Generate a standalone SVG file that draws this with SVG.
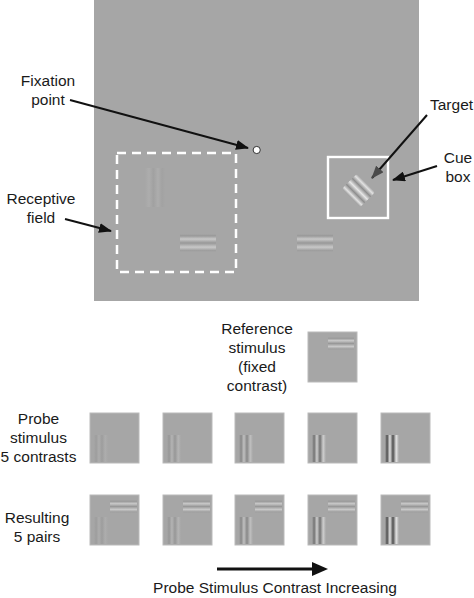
<svg xmlns="http://www.w3.org/2000/svg" width="474" height="598" viewBox="0 0 474 598">
<style>
text{font-family:"Liberation Sans",Arial,sans-serif;font-size:15.5px;fill:#1a1a1a;text-anchor:middle}
.panel{fill:#a6a6a6}
.box{fill:#a6a6a6;stroke:#bababa;stroke-width:1}
.arr{stroke:#111;stroke-width:2;fill:none;marker-end:url(#ah)}
</style>
<defs>
<marker id="ah" markerUnits="userSpaceOnUse" markerWidth="13" markerHeight="10" refX="12" refY="5" orient="auto"><path d="M0,0 L13,5 L0,10 z" fill="#111"/></marker>
<marker id="ahg" markerUnits="userSpaceOnUse" markerWidth="13" markerHeight="10" refX="12" refY="5" orient="auto"><path d="M0,0 L13,5 L0,10 z" fill="#4a4a4a"/></marker>
<linearGradient id="gH" x1="0" y1="0" x2="0" y2="1">
<stop offset="0" stop-color="#a6a6a6"/><stop offset="0.1" stop-color="#999"/><stop offset="0.28" stop-color="#c8c8c8"/><stop offset="0.5" stop-color="#989898"/><stop offset="0.73" stop-color="#c8c8c8"/><stop offset="0.92" stop-color="#9e9e9e"/><stop offset="1" stop-color="#a6a6a6"/>
</linearGradient>
<linearGradient id="gT" x1="0" y1="0" x2="0" y2="1">
<stop offset="0" stop-color="#a8a8a8"/><stop offset="0.12" stop-color="#e2e2e2"/><stop offset="0.3" stop-color="#8e8e8e"/><stop offset="0.5" stop-color="#e6e6e6"/><stop offset="0.7" stop-color="#8e8e8e"/><stop offset="0.88" stop-color="#e2e2e2"/><stop offset="1" stop-color="#a0a0a0"/>
</linearGradient>
<linearGradient id="gRF" x1="0" y1="0" x2="1" y2="0">
<stop offset="0" stop-color="#a6a6a6"/><stop offset="0.2" stop-color="#adadad"/><stop offset="0.42" stop-color="#a1a1a1"/><stop offset="0.65" stop-color="#adadad"/><stop offset="0.85" stop-color="#a2a2a2"/><stop offset="1" stop-color="#a6a6a6"/>
</linearGradient>
<linearGradient id="v1" x1="0" y1="0" x2="1" y2="0"><stop offset="0" stop-color="#a6a6a6"/><stop offset="0.15" stop-color="#9d9d9d"/><stop offset="0.35" stop-color="#adadad"/><stop offset="0.57" stop-color="#9d9d9d"/><stop offset="0.8" stop-color="#adadad"/><stop offset="1" stop-color="#a6a6a6"/></linearGradient>
<linearGradient id="v2" x1="0" y1="0" x2="1" y2="0"><stop offset="0" stop-color="#a6a6a6"/><stop offset="0.15" stop-color="#979797"/><stop offset="0.35" stop-color="#b4b4b4"/><stop offset="0.57" stop-color="#979797"/><stop offset="0.8" stop-color="#b4b4b4"/><stop offset="1" stop-color="#a6a6a6"/></linearGradient>
<linearGradient id="v3" x1="0" y1="0" x2="1" y2="0"><stop offset="0" stop-color="#a6a6a6"/><stop offset="0.15" stop-color="#888"/><stop offset="0.35" stop-color="#c0c0c0"/><stop offset="0.57" stop-color="#888"/><stop offset="0.8" stop-color="#c0c0c0"/><stop offset="1" stop-color="#a6a6a6"/></linearGradient>
<linearGradient id="v4" x1="0" y1="0" x2="1" y2="0"><stop offset="0" stop-color="#a6a6a6"/><stop offset="0.15" stop-color="#727272"/><stop offset="0.35" stop-color="#cecece"/><stop offset="0.57" stop-color="#727272"/><stop offset="0.8" stop-color="#cecece"/><stop offset="1" stop-color="#a6a6a6"/></linearGradient>
<linearGradient id="v5" x1="0" y1="0" x2="1" y2="0"><stop offset="0" stop-color="#a6a6a6"/><stop offset="0.15" stop-color="#4e4e4e"/><stop offset="0.35" stop-color="#e2e2e2"/><stop offset="0.57" stop-color="#4e4e4e"/><stop offset="0.8" stop-color="#e2e2e2"/><stop offset="1" stop-color="#a6a6a6"/></linearGradient>
</defs>

<g id="display">
<rect class="panel" x="94" y="0" width="325" height="301"/>
</g>
<g id="fixation-point"><circle cx="256.7" cy="150" r="3.6" fill="#fff" stroke="#333" stroke-width="1"/></g>
<g id="receptive-field">
<rect x="117" y="153" width="119" height="119" fill="none" stroke="#fff" stroke-width="2.5" stroke-dasharray="9 6"/>
<rect x="145" y="168" width="20" height="39" fill="url(#gRF)"/>
<rect x="180" y="234" width="36" height="18" fill="url(#gH)"/>
</g>
<g id="distractor"><rect x="297" y="234" width="36" height="18" fill="url(#gH)"/></g>
<g id="cue-box"><rect x="328" y="157" width="60" height="61" fill="none" stroke="#fff" stroke-width="2.4"/></g>
<g id="target" transform="translate(358.5,190.5) rotate(45)"><rect x="-13" y="-10.5" width="26" height="21" rx="2.5" fill="url(#gT)"/></g>

<g id="labels-top">
<text x="48" y="86">Fixation</text><text x="48" y="105">point</text>
<text x="41" y="204">Receptive</text><text x="41" y="223">field</text>
<text x="430" y="110" style="text-anchor:start">Target</text>
<text x="458" y="163">Cue</text><text x="458" y="182">box</text>
</g>

<g id="connectors">
<line class="arr" x1="70" y1="100" x2="248" y2="148"/>
<line class="arr" x1="65" y1="219" x2="111" y2="231"/>
<line x1="427" y1="115" x2="372" y2="178" stroke="#111" stroke-width="2" marker-end="url(#ahg)"/>
<line class="arr" x1="437" y1="166" x2="393" y2="180"/>
<line x1="217" y1="569" x2="313" y2="569" stroke="#111" stroke-width="3"/>
<polygon points="312,562 328,569 312,576" fill="#111"/>
</g>

<g id="reference">
<text x="257" y="334">Reference</text><text x="257" y="353">stimulus</text><text x="257" y="372">(fixed</text><text x="257" y="391">contrast)</text>
<rect class="box" x="308" y="332" width="49" height="50"/>
<rect x="328" y="337" width="26" height="13" fill="url(#gH)"/>
</g>

<g id="probe-row">
<text x="38.5" y="424">Probe</text><text x="38.5" y="443">stimulus</text><text x="38.5" y="462">5 contrasts</text>
<rect class="box" x="90" y="413" width="49" height="50"/><rect x="94" y="435" width="14" height="27" fill="url(#v1)"/>
<rect class="box" x="163" y="413" width="49" height="50"/><rect x="167" y="435" width="14" height="27" fill="url(#v2)"/>
<rect class="box" x="235" y="413" width="49" height="50"/><rect x="239" y="435" width="14" height="27" fill="url(#v3)"/>
<rect class="box" x="308" y="413" width="49" height="50"/><rect x="312" y="435" width="14" height="27" fill="url(#v4)"/>
<rect class="box" x="381" y="413" width="49" height="50"/><rect x="385" y="435" width="14" height="27" fill="url(#v5)"/>
</g>

<g id="pairs-row">
<text x="37" y="523">Resulting</text><text x="37" y="542">5 pairs</text>
<rect class="box" x="90" y="495" width="49" height="50"/><rect x="94" y="517" width="14" height="27" fill="url(#v1)"/><rect x="110" y="500" width="27" height="13" fill="url(#gH)"/>
<rect class="box" x="163" y="495" width="49" height="50"/><rect x="167" y="517" width="14" height="27" fill="url(#v2)"/><rect x="183" y="500" width="27" height="13" fill="url(#gH)"/>
<rect class="box" x="235" y="495" width="49" height="50"/><rect x="239" y="517" width="14" height="27" fill="url(#v3)"/><rect x="255" y="500" width="27" height="13" fill="url(#gH)"/>
<rect class="box" x="308" y="495" width="49" height="50"/><rect x="312" y="517" width="14" height="27" fill="url(#v4)"/><rect x="328" y="500" width="27" height="13" fill="url(#gH)"/>
<rect class="box" x="381" y="495" width="49" height="50"/><rect x="385" y="517" width="14" height="27" fill="url(#v5)"/><rect x="401" y="500" width="27" height="13" fill="url(#gH)"/>
</g>

<g id="caption"><text x="275" y="593">Probe Stimulus Contrast Increasing</text></g>
</svg>
